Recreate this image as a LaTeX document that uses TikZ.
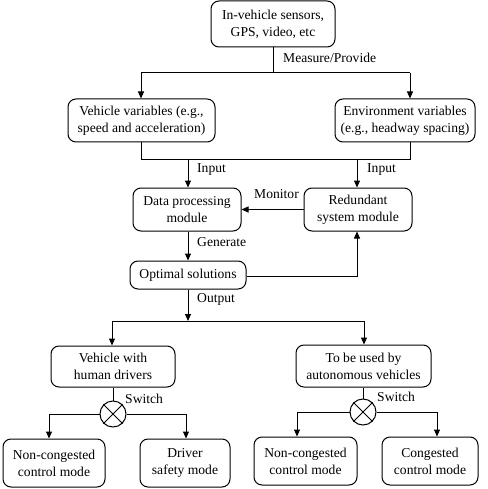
\documentclass[tikz,border=0pt]{standalone}
\usepackage{fontspec}
\setmainfont{Liberation Serif}
\usetikzlibrary{arrows.meta}
\begin{document}
\begin{tikzpicture}[x=1pt,y=-1pt,
  box/.style={draw,line width=1pt,rounded corners=8pt,align=center,inner sep=0pt,font=\fontsize{13.6}{16.8}\selectfont},
  lbl/.style={font=\fontsize{13.6}{15}\selectfont,inner sep=0pt,anchor=west},
  con/.style={line width=1pt},
  arr/.style={con,-{Triangle[length=7pt,width=6pt]}},
  sw/.style={draw,line width=1pt,circle,minimum size=26pt,inner sep=0pt}]
\useasboundingbox (0,0) rectangle (487,489);
\node[box,minimum width=124pt,minimum height=46pt] (top) at (273,24) {In-vehicle sensors,\\GPS, video, etc};
\node[box,minimum width=147pt,minimum height=43pt] (veh) at (141.5,120.5) {Vehicle variables (e.g.,\\speed and acceleration)};
\node[box,minimum width=140pt,minimum height=43pt] (env) at (405,120.5) {Environment variables\\(e.g., headway spacing)};
\node[box,minimum width=108pt,minimum height=43pt] (data) at (187,209.5) {Data processing\\module};
\node[box,minimum width=108pt,minimum height=43pt] (red) at (358,209.5) {Redundant\\system module};
\node[box,minimum width=116pt,minimum height=28pt] (opt) at (188,275) {Optimal solutions};
\node[box,minimum width=124pt,minimum height=41pt] (human) at (113,366.5) {Vehicle with\\human drivers};
\node[box,minimum width=135pt,minimum height=42pt] (auto) at (363.5,366) {To be used by\\autonomous vehicles};
\node[box,minimum width=102pt,minimum height=48pt] (nc1) at (54,463) {Non-congested\\control mode};
\node[box,minimum width=90pt,minimum height=48pt] (ds) at (185,463) {Driver\\safety mode};
\node[box,minimum width=103pt,minimum height=48pt] (nc2) at (305.5,461) {Non-congested\\control mode};
\node[box,minimum width=96pt,minimum height=48pt] (cg) at (430,461) {Congested\\control mode};
\node[sw] (sw1) at (113,414) {};
\node[sw] (sw2) at (363,412) {};
\draw[con] (sw1.north west) -- (sw1.south east) (sw1.north east) -- (sw1.south west);
\draw[con] (sw2.north west) -- (sw2.south east) (sw2.north east) -- (sw2.south west);
% coordinates
\coordinate (m) at (273,73);
\coordinate (ml) at (141,73);
\coordinate (mr) at (410,73);
\coordinate (il) at (141,159);
\coordinate (ir) at (410,159);
\coordinate (i1) at (188,159);
\coordinate (i2) at (357,159);
\coordinate (fb) at (357,276);
\coordinate (o) at (188,321);
\coordinate (ol) at (112,321);
\coordinate (or) at (364,321);
\coordinate (s1l) at (49,414);
\coordinate (s1r) at (186,414);
\coordinate (s2l) at (297,412);
\coordinate (s2r) at (437,412);
% connectors
\draw[con] (top.south) -- (m);
\draw[con] (ml) -- (mr);
\draw[arr] (ml) -- (ml |- veh.north);
\draw[arr] (mr) -- (mr |- env.north);
\draw[con] (ml |- veh.south) -- (il) -- (ir) -- (ir |- env.south);
\draw[arr] (i1) -- (i1 |- data.north);
\draw[arr] (i2) -- (i2 |- red.north);
\draw[arr] (red.west) -- (data.east);
\draw[arr] (data.south -| opt.north) -- (opt.north);
\draw[arr] (opt.east |- fb) -- (fb) -- (fb |- red.south);
\draw[arr] (opt.south) -- (o);
\draw[con] (ol) -- (or);
\draw[arr] (ol) -- (ol |- human.north);
\draw[arr] (or) -- (or |- auto.north);
\draw[con] (human.south -| sw1.north) -- (sw1.north);
\draw[arr] (sw1.west) -- (s1l) -- (s1l |- nc1.north);
\draw[arr] (sw1.east) -- (s1r) -- (s1r |- ds.north);
\draw[con] (auto.south -| sw2.north) -- (sw2.north);
\draw[arr] (sw2.west) -- (s2l) -- (s2l |- nc2.north);
\draw[arr] (sw2.east) -- (s2r) -- (s2r |- cg.north);
% labels
\node[lbl] (lmp) at (283,58) {Measure/Provide};
\node[lbl] (lin1) at (197,169) {Input};
\node[lbl] (lin2) at (367,169) {Input};
\node[lbl] (lmon) at (254,194) {Monitor};
\node[lbl] (lgen) at (197,242) {Generate};
\node[lbl] (lout) at (197,299) {Output};
\node[lbl] (lsw1) at (125,399) {Switch};
\node[lbl] (lsw2) at (377,397) {Switch};
\end{tikzpicture}
\end{document}
